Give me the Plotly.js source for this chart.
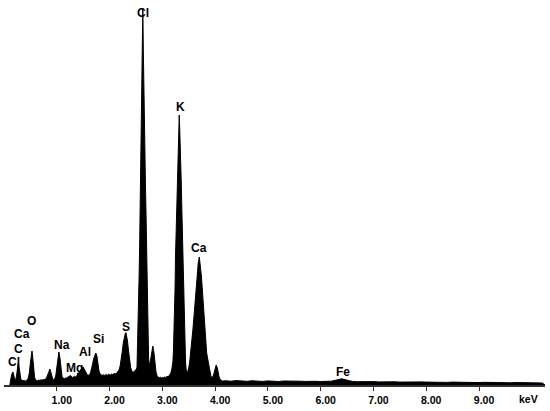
<!DOCTYPE html>
<html>
<head>
<meta charset="utf-8">
<script src="https://cdn.plot.ly/plotly-3.0.1.min.js"></script>
<style>html,body{margin:0;padding:0;background:#fff;}#chart{width:550px;height:411px;}</style>
</head>
<body>
<div id="chart"></div>
<script>
// Spectrum (energy in keV, counts in arbitrary units)
const energy = [
  0.11,0.12,0.14,0.16,0.17,0.18,0.20,0.22,0.24,0.26,0.27,0.28,0.30,0.32,0.34,0.36,0.38,0.40,0.42,0.44,0.46,0.48,0.50,0.52,0.53,0.54,0.56,0.58,0.60,0.62,0.64,0.66,0.68,0.70,
  0.72,0.74,0.76,0.78,0.80,0.82,0.84,0.86,0.87,0.88,0.90,0.92,0.94,0.96,0.98,1.00,1.02,1.04,1.06,1.08,1.10,1.12,1.14,1.16,1.18,1.20,1.22,1.24,1.26,1.28,1.30,1.32,1.34,1.36,1.38,1.40,1.42,1.44,1.46,1.48,1.50,1.52,1.54,1.56,1.58,1.60,1.62,1.64,1.66,1.68,1.70,1.72,1.74,1.76,1.78,1.80,1.82,1.84,1.86,1.88,1.90,
  1.92,1.94,1.96,1.98,2.00,2.02,2.04,2.06,2.08,2.10,2.12,2.14,2.16,2.18,2.20,2.22,2.24,2.26,2.28,2.30,2.31,2.32,2.34,2.36,2.38,2.40,2.42,2.44,2.46,2.48,2.50,
  2.51,2.52,2.53,2.54,2.55,2.56,2.57,2.58,2.59,2.60,2.61,2.62,2.63,2.64,2.65,2.66,2.67,2.68,2.69,2.70,2.71,2.72,2.73,2.74,2.75,
  2.76,2.78,2.80,2.82,2.84,2.86,2.88,2.90,2.92,2.94,2.96,2.98,3.00,3.02,3.04,3.06,3.08,3.10,3.12,3.14,3.16,3.18,
  3.19,3.20,3.21,3.22,3.23,3.24,3.25,3.26,3.27,3.28,3.29,3.30,3.31,3.32,3.33,3.34,3.35,3.36,3.37,3.38,3.39,3.40,3.41,3.42,3.43,3.44,3.45,3.46,3.47,3.48,
  3.49,3.50,3.52,3.54,3.56,3.58,3.60,3.62,3.64,3.66,3.68,3.70,3.72,3.74,3.76,3.78,3.80,3.82,3.84,3.86,3.88,3.90,3.92,3.94,3.96,
  3.98,4.00,4.02,4.04,4.06,4.08,4.10,4.12,4.14,
  4.2,4.3,4.4,4.5,4.6,4.7,4.8,4.9,5.0,5.1,5.2,5.3,5.4,5.5,5.6,5.7,5.8,5.9,6.0,6.1,6.2,6.3,6.4,6.5,6.6,6.7,6.8,6.9,7.0,7.1,7.2,7.3,7.4,7.5,7.6,7.7,7.8,7.9,8.0,8.1,8.2,8.3,8.4,8.5,8.6,8.7,8.8,8.9,9.0,9.1,9.2,9.3,9.4,9.5,9.6,9.7,9.8,9.9,10.0,10.1,10.2,10.25
];
const counts = [
  0,40,90,125,130,110,60,50,100,190,215,200,110,55,50,40,45,38,45,50,70,120,220,320,340,300,160,75,50,48,42,50,46,52,
  48,55,50,60,65,90,125,155,160,145,95,65,55,60,90,170,280,330,270,150,85,70,62,70,68,75,80,92,95,85,75,82,88,78,90,105,125,140,160,175,180,160,135,115,100,98,105,125,160,210,265,305,320,290,210,140,110,100,95,102,96,
  100,106,98,108,104,100,110,105,112,115,110,120,130,150,190,250,330,420,490,520,525,505,440,340,240,175,140,128,132,140,150,
  160,180,350,600,900,1100,1400,1780,2040,2310,2850,3350,3770,3350,2850,2560,2280,2000,1740,1360,1000,680,450,260,200,
  210,260,340,390,330,220,130,90,80,72,78,70,75,72,80,76,82,85,90,100,120,160,
  190,230,340,480,700,950,1300,1500,1750,2000,2280,2420,2550,2700,2550,2420,2280,2000,1750,1500,1300,950,700,480,340,230,160,135,125,130,
  145,170,240,330,440,560,690,830,980,1120,1220,1280,1200,1090,940,770,600,450,320,260,200,130,90,75,85,
  120,170,200,175,115,70,52,42,40,
  42,38,44,40,37,42,39,36,41,38,35,40,37,34,38,36,33,37,35,34,38,50,62,48,36,33,35,32,34,31,33,30,32,29,31,30,28,31,29,27,30,28,26,29,27,25,28,26,24,27,25,23,26,24,22,25,23,21,24,22,20,0
];

// Axis ticks
const tickVals = [1,2,3,4,5,6,7,8,9];
const tickText = ["1.00","2.00","3.00","4.00","5.00","6.00","7.00","8.00","9.00"];

// Element labels and where they sit (keV, counts)
const elemNames = ["Cl","K","Ca","S","Si","Al","Na","Mg","O","Ca","C","Cl","Fe"];
const elemX = [2.634,3.335,3.695,2.303,1.782,1.536,1.100,1.328,0.513,0.333,0.267,0.191,6.42];
const elemY = [3720,2780,1370,580,460,330,400,170,640,510,360,230,130];

const boldFont = {family:"Liberation Sans, Arial, sans-serif", size:12, color:"#000", weight:"bold"};

const annotations = elemNames.map((t,i)=>({
  text:t, x:elemX[i], y:elemY[i], xref:"x", yref:"y",
  showarrow:false, font:boldFont, xanchor:"center", yanchor:"middle"
}));
annotations.push({
  text:"keV", x:9.93, y:0, xref:"x", yref:"paper", yanchor:"top", yshift:-6,
  showarrow:false, font:{family:"Liberation Sans, Arial, sans-serif", size:10.5, color:"#000", weight:"bold"}
});

const trace = {
  x: energy, y: counts, type:"scatter", mode:"lines",
  fill:"tozeroy", fillcolor:"#000", line:{color:"#000", width:1}, hoverinfo:"skip"
};

const layout = {
  width:550, height:411,
  margin:{l:4, r:5, t:5, b:26, pad:0},
  paper_bgcolor:"#fff", plot_bgcolor:"#fff",
  showlegend:false,
  xaxis:{
    range:[0,10.25], showgrid:false, zeroline:false,
    showline:true, linecolor:"#333", linewidth:2,
    ticks:"outside", ticklen:4, tickwidth:1, tickcolor:"#333",
    tickvals:tickVals, ticktext:tickText, ticklabelshift:5,
    tickfont:{family:"Liberation Sans, Arial, sans-serif", size:10.5, color:"#000", weight:"bold"}
  },
  yaxis:{range:[0,3800], visible:false, showgrid:false, zeroline:false},
  annotations: annotations
};

Plotly.newPlot("chart",[trace],layout,{staticPlot:true, displayModeBar:false});
</script>
</body>
</html>
